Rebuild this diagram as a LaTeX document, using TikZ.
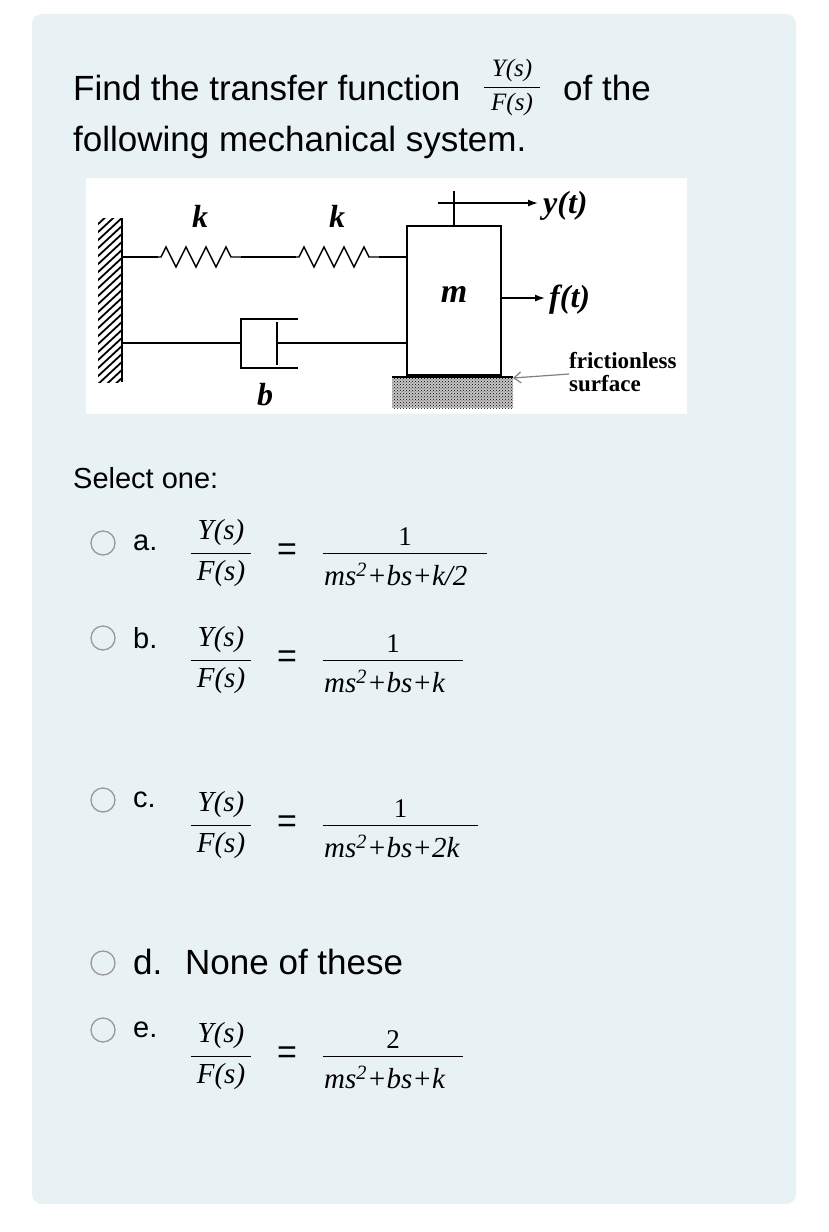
\documentclass[tikz,border=0pt]{standalone}
\usepackage{fontspec}
\setmainfont{Liberation Sans}
\newfontfamily\srf{Liberation Serif}
\usetikzlibrary{decorations.pathmorphing,patterns,arrows.meta}
\begin{document}
\begin{tikzpicture}[x=1pt,y=-1pt,
 q/.style={font=\fontsize{35}{40}\selectfont,anchor=west,inner sep=0},
 fr/.style={font=\srf\itshape\fontsize{29}{32}\selectfont,inner sep=0},
 num/.style={font=\srf\fontsize{27}{30}\selectfont,inner sep=0},
 opt/.style={font=\fontsize{29}{32}\selectfont,anchor=west,inner sep=0},
 radio/.style={draw=gray!80,line width=1.3pt,circle,minimum size=24pt,inner sep=0},
 lab/.style={font=\srf\bfseries\itshape\fontsize{32}{34}\selectfont,inner sep=0},
 spr/.style={decorate,decoration={zigzag,segment length=20pt,amplitude=10pt,pre length=3pt,post length=3pt},line width=1.4pt},
 ln/.style={line width=1.4pt}]
\useasboundingbox (0,0) rectangle (828,1232);
\fill[white] (0,0) rectangle (828,1232);
\fill[rounded corners=10pt,fill={rgb,255:red,232;green,241;blue,244}] (32,14) rectangle (796,1204);
% question
\node[q] (q1) at (73,88) {Find the transfer function};
\node[fr,font=\srf\itshape\fontsize{25}{27}\selectfont] (qn) at (512,70) {Y(s)};
\node[fr,font=\srf\itshape\fontsize{25}{27}\selectfont] (qd) at (512,104) {F(s)};
\draw[line width=0.8pt] (484,87) -- (540,87);
\node[q] (q2) at (563,88) {of the};
\node[q] (q3) at (73,142) {following mechanical system.};
% figure
\fill[white] (86,178) rectangle (687,414);
\begin{scope}
\clip (98,218) rectangle (122,382);
\foreach \i in {0,...,22}{\draw[line width=1.8pt] (96,{226+8*\i}) -- (124,{200+8*\i});}
\end{scope}
\coordinate (w1) at (122,257);
\coordinate (w2) at (122,343);
\draw[line width=2.4pt] (122,218) -- (122,382);
\coordinate (s1a) at (158,257); \coordinate (s1b) at (241,257);
\coordinate (s2a) at (296,257); \coordinate (s2b) at (379,257);
\node[draw,line width=2.4pt,minimum width=94pt,minimum height=149pt,inner sep=0] (m) at (454,300.5) {};
\node[lab,font=\srf\bfseries\itshape\fontsize{34}{36}\selectfont] (ml) at (454,294) {m};
\draw[ln] (w1) -- (s1a);
\draw[spr] (s1a) -- (s1b);
\draw[ln] (s1b) -- (s2a);
\draw[spr] (s2a) -- (s2b);
\draw[ln] (s2b) -- (m.west|-s2b);
\node[lab] (k1) at (200,216) {k};
\node[lab] (k2) at (337,216) {k};
% damper
\draw[ln] (w2) -- (241,343);
\draw[ln] (298,319) -- (241,319) -- (241,368) -- (298,368);
\draw[line width=2.4pt] (277,322) -- (277,365);
\draw[ln] (277,343) -- (m.west|-w2);
\node[lab] (bl) at (265,395) {b};
% ground
\fill[gray!45] (392,378) rectangle (513,408);
\fill[pattern=crosshatch dots,pattern color=black] (392,378) rectangle (513,408);
\draw[line width=1.8pt] (392,377) -- (513,377);
% y(t)
\draw[ln] (m.north) -- (454,191);
\coordinate (ya) at (438,203);
\coordinate (yb) at (538,203);
\draw[ln,-{Latex[length=10pt,width=7pt]}] (ya) -- (yb);
\node[lab,anchor=west] (yl) at (543,206) {y(t)};
\coordinate (fb) at (545,298);
\draw[ln,-{Latex[length=10pt,width=7pt]}] (m.east|-fb) -- (fb);
\node[lab,anchor=west] (fl) at (549,300) {f(t)};
\node[font=\srf\bfseries\fontsize{23}{25}\selectfont,align=left,anchor=west,inner sep=0] (fr) at (569,372) {frictionless\\[-2pt]surface};
\coordinate (fa) at (513,378);
\draw[gray,line width=1.2pt,-{Straight Barb[length=7pt,width=11pt]}] (569,374) -- (fa);
% select
\node[opt] (sel) at (73,478) {Select one:};
% options
\foreach \n/\y/\bar/\den/\nm/\bl in {a/543/553/{ms\textsuperscript{2}+bs+k/2}/1/487, b/638/660/{ms\textsuperscript{2}+bs+k}/1/463, c/800/825/{ms\textsuperscript{2}+bs+2k}/1/478, e/1030/1056/{ms\textsuperscript{2}+bs+k}/2/463}{
 \node[radio] (r\n) at (103,\y) {};
 \node[opt] (l\n) at (133,\y) {\n.};
 \node[fr] (yn\n) at (221,\bar-20) {Y(s)};
 \node[fr] (fd\n) at (221,\bar+21) {F(s)};
 \draw[line width=0.8pt] (191,\bar) -- (251,\bar);
 \node[font=\fontsize{34}{36}\selectfont,inner sep=0] (eq\n) at (287,\bar-1) {=};
 \node[num] (n\n) at ({(323+\bl)/2},\bar-16) {\nm};
 \draw[line width=0.8pt] (323,\bar) -- (\bl,\bar);
 \node[fr,anchor=west] (d\n) at (324,\bar+21) {\den};
}
\node[radio] (rd) at (103,963) {};
\node[opt,font=\fontsize{35}{38}\selectfont] (ld) at (133,962) {d.};
\node[opt,font=\fontsize{35}{38}\selectfont] (ldt) at (185,962) {None of these};
\end{tikzpicture}
\end{document}
